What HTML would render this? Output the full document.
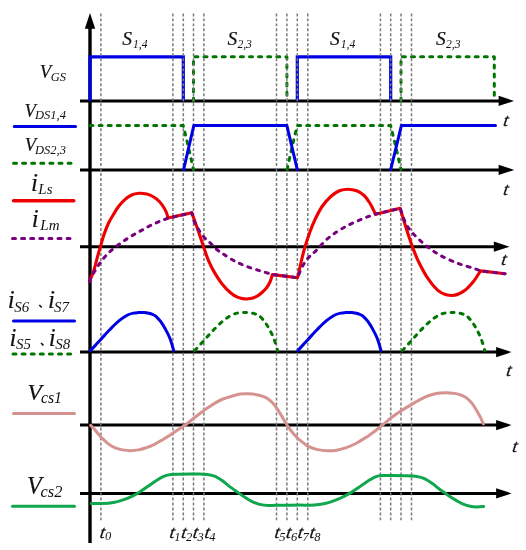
<!DOCTYPE html>
<html><head><meta charset="utf-8"><title>Timing diagram</title><style>html,body{margin:0;padding:0;background:#fff;}svg{display:block;}</style></head><body>
<svg width="526" height="550" viewBox="0 0 526 550">
<rect width="526" height="550" fill="#fff"/>
<g fill="none" stroke-width="3" stroke-linecap="round">
<line x1="14.3" y1="126.6" x2="75.5" y2="126.6" stroke="#0000e4"/>
<line x1="13.5" y1="163.3" x2="71" y2="163.3" stroke="#007600" stroke-dasharray="3 6.1"/>
<line x1="13.5" y1="200.8" x2="73.8" y2="200.8" stroke="#ee0000" stroke-width="3.4"/>
<line x1="12.5" y1="238.4" x2="70" y2="238.4" stroke="#78007f" stroke-dasharray="3 6.1"/>
<line x1="13.5" y1="321" x2="74.5" y2="321" stroke="#0000e4"/>
<line x1="13" y1="354" x2="71" y2="354" stroke="#007600" stroke-dasharray="3 6.1"/>
<line x1="13.5" y1="413.4" x2="74.5" y2="413.4" stroke="#d6928e"/>
<line x1="12.5" y1="506.3" x2="74.5" y2="506.3" stroke="#10a64e"/>
</g>
<g stroke="#000" stroke-width="3" fill="none"><line x1="90" y1="28" x2="90" y2="543" stroke-width="3.4"/><line x1="80" y1="100.9" x2="500.6" y2="100.9"/><line x1="80" y1="169.9" x2="500.6" y2="169.9"/><line x1="80" y1="246.7" x2="495.8" y2="246.7"/><line x1="80" y1="352.1" x2="498.1" y2="352.1"/><line x1="80" y1="425.1" x2="498.1" y2="425.1"/><line x1="80" y1="493.4" x2="498.1" y2="493.4"/></g>
<g fill="#000"><path d="M90 13 L84.8 28.8 L95.2 28.8 Z"/><path d="M514 100.9 L498.6 95.8 L498.6 106 Z"/><path d="M514.2 169.9 L498.6 164.8 L498.6 175 Z"/><path d="M509.6 246.7 L493.8 241.6 L493.8 251.8 Z"/><path d="M511.6 352.1 L496.1 347 L496.1 357.2 Z"/><path d="M511.6 425.1 L496.1 420 L496.1 430.2 Z"/><path d="M511.6 493.4 L496.1 488.3 L496.1 498.5 Z"/></g>
<g fill="none" stroke-width="3" stroke-linejoin="round" stroke-linecap="round">
<path d="M193.5 100.9 L193.5 56.8 L286.9 56.8 L286.9 100.9 M401 100.9 L401 56.8 L494.3 56.8 L494.3 100.9" stroke="#007600" stroke-dasharray="3 6.1"/>
<path d="M90 100.9 L90 56.8 L183.3 56.8 L183.3 100.9 M297.3 100.9 L297.3 56.8 L390.7 56.8 L390.7 100.9" stroke="#0000e4" stroke-width="3.2" stroke-linecap="butt" stroke-linejoin="miter"/>
</g>
<g stroke="#7a7a7a" stroke-width="1.5" stroke-dasharray="2.98 2.01" fill="none"><line x1="100.9" y1="13.4" x2="100.9" y2="520.4"/><line x1="172.9" y1="13.4" x2="172.9" y2="520.4"/><line x1="183.3" y1="13.4" x2="183.3" y2="520.4"/><line x1="193.5" y1="13.4" x2="193.5" y2="520.4"/><line x1="203.9" y1="13.4" x2="203.9" y2="520.4"/><line x1="276.5" y1="13.4" x2="276.5" y2="520.4"/><line x1="286.9" y1="13.4" x2="286.9" y2="520.4"/><line x1="297.3" y1="13.4" x2="297.3" y2="520.4"/><line x1="307.8" y1="13.4" x2="307.8" y2="520.4"/><line x1="380.4" y1="13.4" x2="380.4" y2="520.4"/><line x1="390.7" y1="13.4" x2="390.7" y2="520.4"/><line x1="401" y1="13.4" x2="401" y2="520.4"/><line x1="411.5" y1="13.4" x2="411.5" y2="520.4"/></g>
<g fill="none" stroke-width="3" stroke-linejoin="round" stroke-linecap="round">
<path d="M90 125.6 L183.2 125.6 Q188.3 146 193.5 169.6 M287.2 169.6 Q292 146 297.3 125.6 L390.6 125.6 Q395.8 146 401 169.6" stroke="#007600" stroke-dasharray="3 6.1"/>
<path d="M183.6 169.6 L193.8 125.6 L286.9 125.6 L297.3 169.6 M390.7 169.6 L401.4 125.6 L495.5 125.6" stroke="#0000e4"/>
<path d="M89.5 281.4 C90.2 279.5 92.7 274.2 94 270 C95.3 265.8 96.5 260.3 97.6 256.4 C98.7 252.5 99.4 250.2 100.4 246.8 C101.4 243.4 102.3 239.6 103.6 235.8 C104.9 232 106.5 227.6 108.1 224 C109.7 220.4 111.6 217.4 113.4 214.5 C115.2 211.6 116.8 208.8 118.7 206.3 C120.6 203.9 122.4 201.7 124.6 199.8 C126.8 197.9 129.3 196.1 131.7 195 C134.1 193.9 136.3 193.5 138.8 193.3 C141.3 193.2 144.3 193.5 146.8 194.1 C149.3 194.7 151.6 195.8 153.7 197 C155.8 198.2 157.7 199.7 159.4 201.5 C161.1 203.3 162.8 205.8 164 207.8 C165.2 209.8 166.2 211.8 166.8 213.5 C167.5 215.2 167.7 217.3 167.9 218.1 L191.8 212.7 C192.7 215.3 195.6 223.3 197.4 228.4 C199.2 233.5 200.6 237.9 202.4 243.3 C204.2 248.7 206.4 255.7 208.5 260.6 C210.6 265.5 212.4 269 214.7 272.9 C217 276.8 219.4 280.6 222.1 284 C224.8 287.4 228.2 290.8 230.8 293 C233.4 295.2 235.2 296.2 237.5 297.2 C239.8 298.2 242.2 298.7 244.4 298.9 C246.6 299.1 248.4 299 250.5 298.6 C252.6 298.2 254.8 297.4 256.7 296.4 C258.6 295.4 260.4 293.9 262 292.5 C263.6 291.1 265.2 289.5 266.6 287.7 C268 285.9 269.2 283.7 270.2 281.5 C271.2 279.3 272 275.8 272.4 274.6 L297.6 277.7 C298.2 275.1 299.9 267 301.1 262 C302.3 257 303.4 252.4 304.8 247.5 C306.2 242.6 308.2 236.9 309.8 232.3 C311.4 227.8 312.6 224.5 314.7 220.2 C316.8 215.9 319.4 210.4 322.1 206.5 C324.8 202.6 327.9 199.1 330.8 196.5 C333.7 193.9 336.5 192 339.4 190.8 C342.3 189.6 345.2 189.2 348.1 189.2 C351 189.2 354 189.8 356.7 190.8 C359.4 191.9 362 193.6 364.1 195.5 C366.2 197.4 368 200.2 369.5 202.5 C371 204.8 372 207.1 373 209 C374 210.9 375 213.3 375.4 214.2 L400.2 208.3 C401.1 211.5 403.9 221 405.9 227.3 C407.9 233.7 410.2 240.7 412.3 246.4 C414.4 252.2 416 256.5 418.6 261.8 C421.2 267.1 424.4 273.4 427.7 278.2 C431 283 434.5 288 438.6 290.9 C442.7 293.8 448.1 295.5 452.3 295.5 C456.6 295.5 460.6 293.2 464.1 290.9 C467.6 288.6 470.5 285.1 473.2 281.8 C475.9 278.5 479.3 272.7 480.5 270.9 L505 273.7" stroke="#ee0000" stroke-width="3.1"/>
<path d="M89.5 281.4 C89.8 280.8 90.1 279.6 91 277.8 C91.9 276.1 93.4 273.3 94.9 270.9 C96.4 268.5 98.2 265.6 99.9 263.2 C101.7 260.8 103.4 258.5 105.4 256.2 C107.5 253.9 109.7 251.7 112.2 249.6 C114.7 247.5 117.8 245.3 120.4 243.4 C123 241.5 125.5 239.8 128 238.2 C130.5 236.6 132.9 235.2 135.2 233.9 C137.5 232.6 139.8 231.3 142 230.1 C144.2 228.9 146.1 227.7 148.3 226.6 C150.5 225.5 152.8 224.4 155 223.4 C157.2 222.4 159.3 221.4 161.5 220.6 C163.7 219.8 166.8 218.7 167.9 218.3 L191.8 212.7 C192.2 214.1 193 218.6 194.1 221.4 C195.2 224.2 196.9 226.8 198.6 229.5 C200.3 232.2 202.5 235.4 204.5 237.7 C206.5 240 208.4 241.2 210.5 243.2 C212.6 245.2 214.7 247.7 216.8 249.5 C218.9 251.3 220.3 252.1 223.2 254 C226.1 255.9 230.6 258.8 234.4 260.9 C238.2 262.9 242 264.6 246.3 266.3 C250.6 268 255.7 269.5 260 270.8 C264.3 272.1 270.2 273.8 272.2 274.4 L297.6 277.7 C298.4 275.9 300.5 270.1 302.2 266.8 C303.9 263.6 305.6 260.9 307.9 258.2 C310.2 255.5 312.3 254.3 315.9 250.8 C319.4 247.3 324.1 241.4 329.2 237.3 C334.3 233.2 340.6 229.3 346.3 226.2 C352 223.1 358.5 220.5 363.4 218.5 C368.2 216.5 373.4 214.9 375.4 214.2 L400.2 208.3 C401.1 210.9 403.7 219.4 405.9 223.6 C408.1 227.8 409.9 229.9 413.2 233.6 C416.5 237.2 421.3 241.8 425.9 245.5 C430.4 249.2 435.1 252.5 440.5 255.5 C445.9 258.5 453.2 261.5 458.6 263.6 C464.1 265.7 469.6 267 473.2 268.2 C476.8 269.4 479.3 270.4 480.5 270.9 L505 273.7" stroke="#78007f" stroke-dasharray="3 6.1"/>
<path d="M90.6 350.6 C91.4 349.7 93.7 347.1 95.3 345.4 C96.9 343.7 98.5 341.9 100.1 340.2 C101.7 338.4 103.3 336.6 104.9 334.9 C106.4 333.1 108.1 331.3 109.7 329.7 C111.3 328.1 112.8 326.5 114.4 325 C116 323.5 117.6 322 119.2 320.7 C120.8 319.4 122.3 318.2 123.9 317.2 C125.5 316.2 127.1 315.2 128.7 314.5 C130.3 313.8 131.9 313.4 133.5 313.1 C135 312.8 136.6 312.7 137.9 312.6 C139.2 312.5 140.1 312.4 141.3 312.4 C142.5 312.4 143.6 312.5 144.9 312.6 C146.2 312.8 147.7 313 148.9 313.3 C150.2 313.6 151.3 313.9 152.4 314.4 C153.5 314.8 155.1 315.7 155.6 316 C156.4 316.9 158.8 319.1 160.4 321.2 C161.9 323.3 163.6 325.9 165.2 328.8 C166.8 331.7 168.5 334.7 169.9 338.3 C171.3 341.9 173.1 348.6 173.7 350.6 M297.9 350.6 C298.7 349.7 301 347.1 302.6 345.4 C304.2 343.7 305.8 341.9 307.4 340.2 C309 338.4 310.6 336.6 312.2 334.9 C313.7 333.1 315.4 331.3 317 329.7 C318.6 328.1 320.1 326.5 321.7 325 C323.3 323.5 324.9 322 326.5 320.7 C328.1 319.4 329.6 318.2 331.2 317.2 C332.8 316.2 334.4 315.2 336 314.5 C337.6 313.8 339.2 313.4 340.8 313.1 C342.3 312.8 343.9 312.7 345.2 312.6 C346.5 312.5 347.4 312.4 348.6 312.4 C349.8 312.4 350.9 312.5 352.2 312.6 C353.5 312.8 355 313 356.2 313.3 C357.5 313.6 358.6 313.9 359.7 314.4 C360.8 314.8 362.4 315.7 362.9 316 C363.7 316.9 366.1 319.1 367.7 321.2 C369.2 323.3 370.9 325.9 372.5 328.8 C374.1 331.7 375.8 334.7 377.2 338.3 C378.6 341.9 380.4 348.6 381 350.6" stroke="#0000e4"/>
<path d="M194.8 350.6 C195.6 349.7 197.9 347.1 199.5 345.4 C201.1 343.7 202.7 341.9 204.3 340.2 C205.9 338.4 207.4 336.6 209 334.9 C210.6 333.1 212.2 331.3 213.8 329.7 C215.4 328.1 216.9 326.5 218.5 325 C220.1 323.5 221.7 322 223.3 320.7 C224.9 319.4 226.4 318.2 228 317.2 C229.6 316.2 231.2 315.2 232.8 314.5 C234.4 313.8 236 313.4 237.5 313.1 C239 312.8 240.6 312.7 241.9 312.6 C243.2 312.5 244.1 312.4 245.3 312.4 C246.5 312.4 247.6 312.5 248.9 312.6 C250.2 312.8 251.7 313 252.9 313.3 C254.2 313.6 255.3 313.9 256.4 314.4 C257.5 314.8 259.1 315.7 259.6 316 C260.4 316.9 262.7 319.1 264.3 321.2 C265.9 323.3 267.5 325.9 269.1 328.8 C270.7 331.7 272.4 334.7 273.8 338.3 C275.2 341.9 277 348.6 277.6 350.6 M402.4 350.6 C403.2 349.7 405.5 347.1 407.1 345.4 C408.7 343.7 410.3 341.9 411.9 340.2 C413.4 338.4 415 336.6 416.5 334.9 C418.1 333.1 419.7 331.3 421.3 329.7 C422.9 328.1 424.4 326.5 426 325 C427.6 323.5 429.2 322 430.8 320.7 C432.3 319.4 433.9 318.2 435.4 317.2 C437 316.2 438.6 315.2 440.2 314.5 C441.8 313.8 443.4 313.4 444.9 313.1 C446.4 312.8 448 312.7 449.3 312.6 C450.6 312.5 451.5 312.4 452.7 312.4 C453.8 312.4 455 312.5 456.2 312.6 C457.5 312.8 459 313 460.2 313.3 C461.5 313.6 462.6 313.9 463.7 314.4 C464.8 314.8 466.4 315.7 466.9 316 C467.7 316.9 470 319.1 471.6 321.2 C473.1 323.3 474.8 325.9 476.3 328.8 C477.9 331.7 479.6 334.7 481 338.3 C482.4 341.9 484.2 348.6 484.8 350.6" stroke="#007600" stroke-dasharray="3 6.1"/>
<path d="M90.7 425.4 C91.4 426.1 93.4 428.1 94.7 429.6 C96 431.1 97.3 432.8 98.6 434.3 C99.9 435.8 101 437.1 102.6 438.7 C104.2 440.2 106 442.1 108 443.6 C110 445.1 112.2 446.6 114.6 447.6 C117 448.7 119.9 449.4 122.6 449.9 C125.3 450.4 127.9 450.7 130.6 450.7 C133.3 450.7 135.9 450.4 138.6 449.9 C141.3 449.4 143.9 448.5 146.6 447.6 C149.2 446.7 152.1 445.5 154.5 444.3 C156.9 443.1 158.9 441.8 161 440.6 C163.1 439.4 165 438.2 167 437 C169 435.8 170.6 434.7 172.8 433.2 C175 431.7 178.2 429.6 180.4 428.2 C182.6 426.8 184 426 186 424.5 C188 423 190.2 421.1 192.6 419.2 C195 417.3 197.7 415.2 200.2 413.3 C202.7 411.4 205.3 409.5 207.8 407.8 C210.3 406.1 212.9 404.4 215.4 402.9 C217.9 401.4 220.1 400.1 223 399 C225.9 397.9 229.7 396.8 232.6 396 C235.5 395.2 237.7 394.5 240.2 394.1 C242.7 393.7 245.3 393.6 247.8 393.7 C250.3 393.8 252.9 393.9 255.4 394.4 C257.9 394.8 260.8 395.6 263 396.4 C265.2 397.2 266.8 398 268.5 399.2 C270.2 400.4 271.7 401.9 273.2 403.6 C274.7 405.3 276.1 407.3 277.5 409.3 C278.9 411.3 279.9 413.1 281.3 415.4 C282.7 417.7 284.3 420.6 285.8 423 C287.3 425.4 288.8 427.7 290.4 429.9 C292 432.1 293.8 434.2 295.5 436 C297.2 437.8 298.6 439.2 300.7 440.9 C302.8 442.6 305.4 444.9 308.3 446.4 C311.2 447.8 314.6 448.9 317.8 449.6 C321 450.3 324.1 450.6 327.3 450.7 C330.5 450.8 333.6 450.7 336.8 450.2 C340 449.7 343.1 448.8 346.3 447.7 C349.5 446.6 352.6 445.1 355.8 443.5 C359 441.9 362.1 439.9 365.3 437.8 C368.5 435.8 372.2 433.1 374.8 431.2 C377.4 429.3 378.7 428.2 380.6 426.6 C382.5 425.1 384.3 423.5 386.3 421.9 C388.3 420.3 390.1 418.6 392.5 416.8 C394.9 415 397.4 413.2 400.5 411.2 C403.6 409.2 407.6 406.8 410.9 404.9 C414.1 403 417.4 401 420 399.6 C422.6 398.2 424.5 397.3 426.7 396.4 C428.9 395.5 431.1 394.8 433.3 394.2 C435.5 393.6 437.8 393.3 440 393.1 C442.2 392.9 444.4 392.8 446.6 392.8 C448.8 392.8 451.1 393 453.3 393.3 C455.5 393.6 457.9 394 459.9 394.6 C461.9 395.2 463.6 396.1 465.2 397 C466.8 397.9 467.9 399 469.2 400.3 C470.5 401.6 471.9 403.1 473.2 405 C474.5 406.9 476 409.5 477.2 411.6 C478.4 413.7 479.6 415.6 480.6 417.6 C481.6 419.6 482.9 422.8 483.4 423.8" stroke="#d6928e"/>
<path d="M91.3 503.4 C92.8 503.4 96.9 503.6 100 503.5 C103.1 503.4 107.1 503.3 110 503 C112.9 502.7 115.1 502.2 117.6 501.6 C120.1 501 122.7 500.2 125.2 499.2 C127.7 498.2 130.5 496.9 132.8 495.8 C135.1 494.7 136.5 494 139 492.4 C141.5 490.8 145.2 488.2 148 486.3 C150.8 484.4 153.1 482.6 155.6 481 C158.1 479.4 160.7 477.7 163.2 476.6 C165.7 475.5 168.3 475 170.8 474.6 C173.3 474.2 175.2 474.3 178.4 474.2 C181.6 474.1 186.4 474.1 190 474.1 C193.6 474.1 197.1 474.1 200 474.1 C202.9 474.2 205.1 474 207.6 474.4 C210.1 474.8 212.7 475.3 215.2 476.4 C217.7 477.5 220.3 479.2 222.8 481 C225.3 482.8 227.7 485.1 230.4 487.1 C233.1 489.1 236.3 491.3 238.8 493.1 C241.3 494.9 243.2 496.2 245.6 497.7 C248 499.2 250.7 501 253.2 502.1 C255.7 503.2 258.3 504.1 260.8 504.6 C263.3 505.2 265.2 505.3 268.4 505.4 C271.6 505.5 274.7 505.4 280 505.3 C285.3 505.2 295.1 505.1 300 505.1 C304.9 505.1 306.3 505.3 309.5 505.2 C312.7 505.1 315.8 504.9 319 504.5 C322.2 504.1 325.3 503.5 328.5 502.6 C331.7 501.7 335.2 500.3 338 499.2 C340.8 498.1 342.8 496.9 345 495.8 C347.2 494.7 348.7 494 351.3 492.4 C353.9 490.8 357.6 488 360.8 485.9 C364 483.8 367.8 481.2 370.3 479.6 C372.8 478.1 374.1 477.3 376 476.6 C377.9 475.9 379 475.8 381.7 475.6 C384.4 475.4 388.1 475.6 392 475.6 C395.9 475.6 401.1 475.7 405 475.8 C408.9 475.9 412.2 475.9 415.3 476.3 C418.4 476.7 421 477.1 423.8 478.3 C426.6 479.5 429.8 481.7 432.4 483.5 C435 485.3 437.1 487.4 439.2 489 C441.3 490.6 442.9 491.6 445.2 493.2 C447.5 494.8 450.2 496.7 452.9 498.4 C455.6 500.1 458.6 502 461.5 503.3 C464.4 504.6 467.4 505.6 470 506.2 C472.6 506.8 474.6 506.9 476.9 506.9 C479.2 506.9 482.6 506.5 483.7 506.4" stroke="#10a64e"/>
</g>
<g style="font-family:'Liberation Serif','Times New Roman',serif;font-style:italic;fill:#111"><text x="122.2" y="45.3" font-size="19.5" stroke="#111" stroke-width="0.18">S</text><text x="133" y="48" font-size="11.6">1,4</text><text x="227.6" y="45.3" font-size="19.5" stroke="#111" stroke-width="0.18">S</text><text x="237.4" y="48" font-size="11.6">2,3</text><text x="329.9" y="45.3" font-size="19.5" stroke="#111" stroke-width="0.18">S</text><text x="340.7" y="48" font-size="11.6">1,4</text><text x="436" y="45.3" font-size="19.5" stroke="#111" stroke-width="0.18">S</text><text x="446" y="48" font-size="11.6">2,3</text><text x="39.8" y="77.9" font-size="18.8" stroke="#111" stroke-width="0.18">V</text><text x="50.8" y="80.9" font-size="12.5">GS</text><text x="24.6" y="116.8" font-size="18.6" stroke="#111" stroke-width="0.18">V</text><text x="35" y="119.1" font-size="12.5">DS1,4</text><text x="24.8" y="151.2" font-size="18.6" stroke="#111" stroke-width="0.18">V</text><text x="35" y="153.8" font-size="12.5">DS2,3</text><text x="31" y="190.8" font-size="25" stroke="#111" stroke-width="0.18">i</text><text x="38.3" y="194" font-size="15">Ls</text><text x="31.8" y="226.6" font-size="25" stroke="#111" stroke-width="0.18">i</text><text x="40.3" y="230.2" font-size="15">Lm</text><text x="7.8" y="308" font-size="25" stroke="#111" stroke-width="0.18">i</text><text x="14.3" y="311.5" font-size="15">S6</text><text x="48" y="308" font-size="25" stroke="#111" stroke-width="0.18">i</text><text x="54" y="311.5" font-size="15">S7</text><text x="9.5" y="345.7" font-size="25" stroke="#111" stroke-width="0.18">i</text><text x="16" y="349.2" font-size="15">S5</text><text x="48.8" y="345.7" font-size="25" stroke="#111" stroke-width="0.18">i</text><text x="55.3" y="349.2" font-size="15">S8</text><text x="27.6" y="399.7" font-size="23.5" stroke="#111" stroke-width="0.18">V</text><text x="40.9" y="403.4" font-size="15.8">cs1</text><text x="27" y="493.5" font-size="24.2" stroke="#111" stroke-width="0.18">V</text><text x="40.5" y="497" font-size="16.4">cs2</text><text transform="translate(503 125.5) skewX(-9)" x="-0.3" y="0" font-size="18" stroke="#111" stroke-width="0.3">t</text><text transform="translate(503 194.8) skewX(-9)" x="-0.3" y="0" font-size="18" stroke="#111" stroke-width="0.3">t</text><text transform="translate(501 264.8) skewX(-9)" x="-0.3" y="0" font-size="18" stroke="#111" stroke-width="0.3">t</text><text transform="translate(506 375.5) skewX(-9)" x="-0.3" y="0" font-size="18" stroke="#111" stroke-width="0.3">t</text><text transform="translate(512 451.5) skewX(-9)" x="-0.3" y="0" font-size="18" stroke="#111" stroke-width="0.3">t</text><text transform="translate(99.5 537.5) skewX(-9)" x="-0.3" y="0" font-size="18" stroke="#111" stroke-width="0.3">t</text><text x="105" y="540.2" font-size="12.5">0</text><text transform="translate(169.3 537.5) skewX(-9)" x="-0.3" y="0" font-size="18" stroke="#111" stroke-width="0.3">t</text><text x="174.3" y="540.5" font-size="12.5">1</text><text transform="translate(181 537.5) skewX(-9)" x="-0.3" y="0" font-size="18" stroke="#111" stroke-width="0.3">t</text><text x="186" y="540.5" font-size="12.5">2</text><text transform="translate(192.6 537.5) skewX(-9)" x="-0.3" y="0" font-size="18" stroke="#111" stroke-width="0.3">t</text><text x="197.6" y="540.5" font-size="12.5">3</text><text transform="translate(204.2 537.5) skewX(-9)" x="-0.3" y="0" font-size="18" stroke="#111" stroke-width="0.3">t</text><text x="209.2" y="540.5" font-size="12.5">4</text><text transform="translate(274.3 537.5) skewX(-9)" x="-0.3" y="0" font-size="18" stroke="#111" stroke-width="0.3">t</text><text x="279.3" y="540.5" font-size="12.5">5</text><text transform="translate(285.9 537.5) skewX(-9)" x="-0.3" y="0" font-size="18" stroke="#111" stroke-width="0.3">t</text><text x="290.9" y="540.5" font-size="12.5">6</text><text transform="translate(297.6 537.5) skewX(-9)" x="-0.3" y="0" font-size="18" stroke="#111" stroke-width="0.3">t</text><text x="302.6" y="540.5" font-size="12.5">7</text><text transform="translate(309.2 537.5) skewX(-9)" x="-0.3" y="0" font-size="18" stroke="#111" stroke-width="0.3">t</text><text x="314.2" y="540.5" font-size="12.5">8</text></g>
<g style="font-family:'Liberation Serif','Noto Sans CJK SC',serif;fill:#1a1a1a"><text x="38.3" y="307.4" font-size="11" font-weight="bold">、</text><text x="40.1" y="344.7" font-size="11" font-weight="bold">、</text></g>
</svg>
</body></html>
